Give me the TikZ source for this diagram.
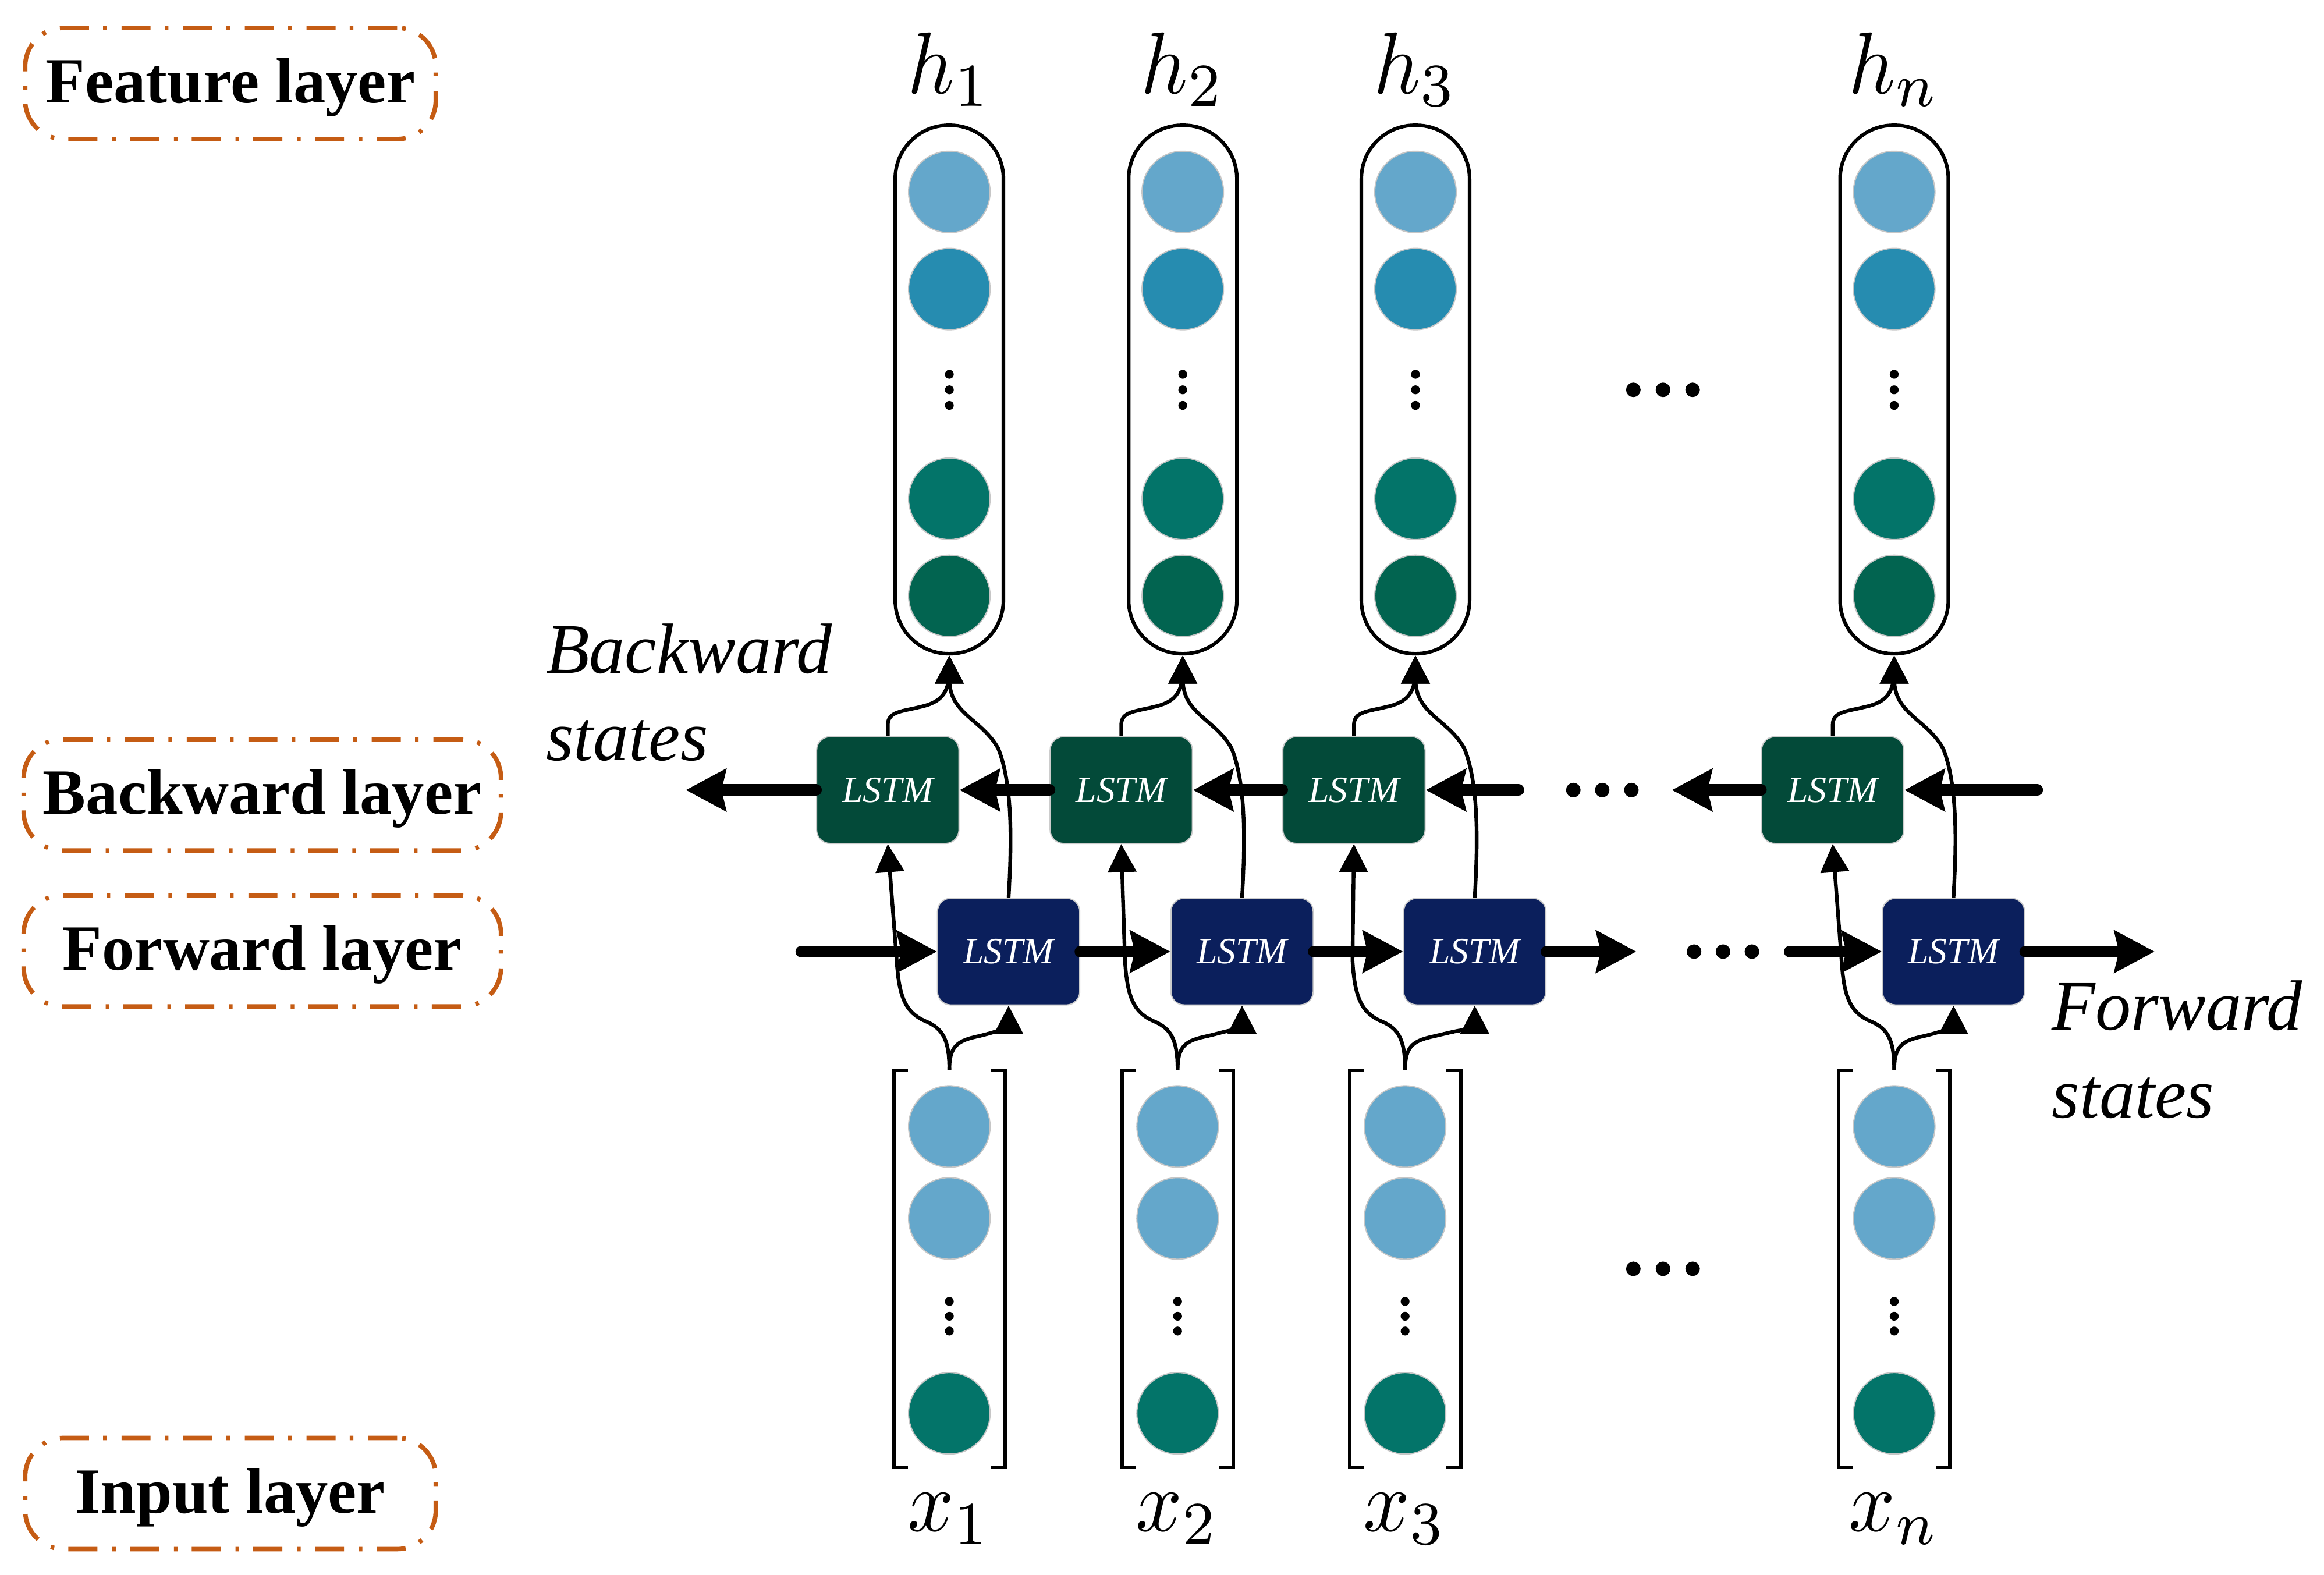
\documentclass[tikz,border=0pt]{standalone}
\usepackage{fontspec}
\setmainfont{Liberation Serif}
\usetikzlibrary{arrows.meta}
\definecolor{cLight}{RGB}{100,167,203}
\definecolor{cMid}{RGB}{38,140,176}
\definecolor{cTeal}{RGB}{3,116,105}
\definecolor{cDark}{RGB}{2,100,80}
\definecolor{bwdC}{RGB}{3,74,57}
\definecolor{fwdC}{RGB}{11,31,92}
\definecolor{layerC}{RGB}{197,92,20}
\newcommand{\biglbl}[1]{\scalebox{2.75}[2.95]{$#1$}}
\begin{document}
\begin{tikzpicture}[x=0.5pt,y=-0.5pt,
  layerbox/.style={draw=layerC, line width=1.5pt,
    dash pattern=on 9.8pt off 5pt on 1.2pt off 4.8pt,
    rounded corners=13pt, minimum height=37.5pt, inner sep=0pt,
    font=\fontsize{21.75}{26}\selectfont\bfseries,
    text height=16pt, text depth=3pt},
  capsule/.style={draw, line width=1.2pt, rounded corners=18pt,
    minimum width=36.5pt, minimum height=178.25pt, inner sep=0pt},
  unit/.style={circle, draw=gray!45, line width=0.4pt, minimum size=27.5pt, inner sep=0pt},
  vdot/.style={circle, fill=black, minimum size=3pt, inner sep=0pt},
  hdot/.style={circle, fill=black, minimum size=4.9pt, inner sep=0pt},
  lstm/.style={rounded corners=4.5pt, draw=gray!40, line width=0.4pt,
    minimum width=48pt, minimum height=36pt, inner sep=0pt, text=white,
    font=\fontsize{12.5}{15}\selectfont\itshape},
  bwdbox/.style={lstm, fill=bwdC},
  fwdbox/.style={lstm, fill=fwdC},
  brk/.style={inner sep=0pt, outer sep=0pt, minimum width=37.5pt, minimum height=134pt},
  brkline/.style={line width=1.2pt},
  mathlbl/.style={inner sep=0pt},
  stateslbl/.style={font=\fontsize{24}{29.5}\selectfont\itshape, align=left, inner sep=0pt},
  thickarrow/.style={line width=3.9pt, line cap=round,
    -{Stealth[length=13.5pt,width=14pt,inset=1.5pt]}},
  thinarrow/.style={line width=1.25pt, -{Triangle[length=9.5pt,width=9.5pt]}}
]
\useasboundingbox (0,0) rectangle (1568,1062.6);

% layer labels
\node[layerbox, minimum width=138.5pt] (featL) at (155.5,56.3) {Feature layer};
\node[layerbox, minimum width=161pt] (bwdL) at (177,536.3) {Backward layer};
\node[layerbox, minimum width=161pt] (fwdL) at (177,641.5) {Forward layer};
\node[layerbox, minimum width=138.5pt] (inL) at (155.5,1007.6) {Input layer};

% columns
\foreach \i/\c/\x in {1/640.5/640.5, 2/798/794.5, 3/955/948, n/1278/1278} {
  % feature capsule
  \node[capsule] (cap\i) at (\c,262.75) {};
  \node[unit, fill=cLight] (h\i-a) at (\c,129.5) {};
  \node[unit, fill=cMid]   (h\i-b) at (\c,195) {};
  \node[vdot] (h\i-d1) at (\c,252.5) {};
  \node[vdot] (h\i-d2) at (\c,263) {};
  \node[vdot] (h\i-d3) at (\c,273.5) {};
  \node[unit, fill=cTeal]  (h\i-c) at (\c,336.5) {};
  \node[unit, fill=cDark]  (h\i-e) at (\c,402) {};
  \node[mathlbl, anchor=base] (hl\i) at (\c,63) {\biglbl{h_\i}};
  % input vector
  \node[brk] (in\i) at (\x,856) {};
  \draw[brkline] ([xshift=4.8pt]in\i.north west) -- (in\i.north west) -- (in\i.south west) -- ([xshift=4.8pt]in\i.south west);
  \draw[brkline] ([xshift=-4.8pt]in\i.north east) -- (in\i.north east) -- (in\i.south east) -- ([xshift=-4.8pt]in\i.south east);
  \node[unit, fill=cLight] (x\i-a) at (\x,760) {};
  \node[unit, fill=cLight] (x\i-b) at (\x,822) {};
  \node[vdot] (x\i-d1) at (\x,878) {};
  \node[vdot] (x\i-d2) at (\x,888) {};
  \node[vdot] (x\i-d3) at (\x,898) {};
  \node[unit, fill=cTeal]  (x\i-c) at (\x,953.5) {};
  \node[mathlbl, anchor=base] (xl\i) at (\x,1033) {\biglbl{x_\i}};
  % LSTM cells
  \node[bwdbox] (bw\i) at (\c-41.5,533) {LSTM};
  \node[fwdbox] (fw\i) at (\c+40,642) {LSTM};
}

% ellipsis dots
\foreach \k/\px in {1/1102, 2/1122, 3/1142} {
  \node[hdot] (fdot\k) at (\px,263) {};
  \node[hdot] (idot\k) at (\px,856) {};
}
\foreach \k/\px in {1/1061.5, 2/1081, 3/1100.7} {
  \node[hdot] (bdot\k) at (\px,533) {};
}
\foreach \k/\px in {1/1143, 2/1162.5, 3/1182} {
  \node[hdot] (wdot\k) at (\px,642) {};
}

% free ends of the state arrows
\coordinate (bwEnd) at (462.7,533);
\coordinate (bwMid) at (1024.5,533);
\coordinate (bwStart) at (1374.5,533);
\coordinate (bwnEnd) at (1128,533);
\coordinate (fwStart) at (540.6,642);
\coordinate (fwMid) at (1104,642);
\coordinate (fwResume) at (1207.5,642);
\coordinate (fwEnd) at (1453.7,642);

% backward state arrows
\draw[thickarrow] (bw1.west) -- (bwEnd);
\draw[thickarrow] (bw2.west) -- (bw1.east);
\draw[thickarrow] (bw3.west) -- (bw2.east);
\draw[thickarrow] (bwMid) -- (bw3.east);
\draw[thickarrow] (bwn.west) -- (bwnEnd);
\draw[thickarrow] (bwStart) -- (bwn.east);

% forward state arrows
\draw[thickarrow] (fwStart) -- (fw1.west);
\draw[thickarrow] (fw1.east) -- (fw2.west);
\draw[thickarrow] (fw2.east) -- (fw3.west);
\draw[thickarrow] (fw3.east) -- (fwMid);
\draw[thickarrow] (fwResume) -- (fwn.west);
\draw[thickarrow] (fwn.east) -- (fwEnd);

% thin connectors
\foreach \i/\c/\x in {1/640.5/640.5, 2/798/794.5, 3/955/948, n/1278/1278} {
  \draw[thinarrow] (bw\i.north) -- (\c-41.5,489)
     .. controls (\c-41.5,480) and (\c-32,480) .. (\c-20,477)
     .. controls (\c-6,474) and (\c,468) .. (\c,452) -- (cap\i.south);
  \draw[thinarrow] (fw\i.north)
     .. controls (\c+42,570) and (\c+43,530) .. (\c+33,505)
     .. controls (\c+22,485) and (\c,482) .. (\c,458) -- (cap\i.south);
  \draw[thinarrow] (in\i.north)
     .. controls (\x,702) and (\x-4,694) .. (\x-16,689)
     .. controls (\x-30,683) and (\x-34,672) .. (\x-35.5,648) -- (bw\i.south);
  \draw[thinarrow] (in\i.north)
     .. controls (\x,705) and (\x+6,702) .. (\x+20,699)
     .. controls (\x+33,696) and (\c+40,692) .. (fw\i.south);
}

% state labels (base anchor = baseline of the last line)
\node[stateslbl, anchor=base west] (bwS) at (368,513) {Backward\\states};
\node[stateslbl, anchor=base west] (fwS) at (1384,754) {Forward\\states};
\end{tikzpicture}
\end{document}
